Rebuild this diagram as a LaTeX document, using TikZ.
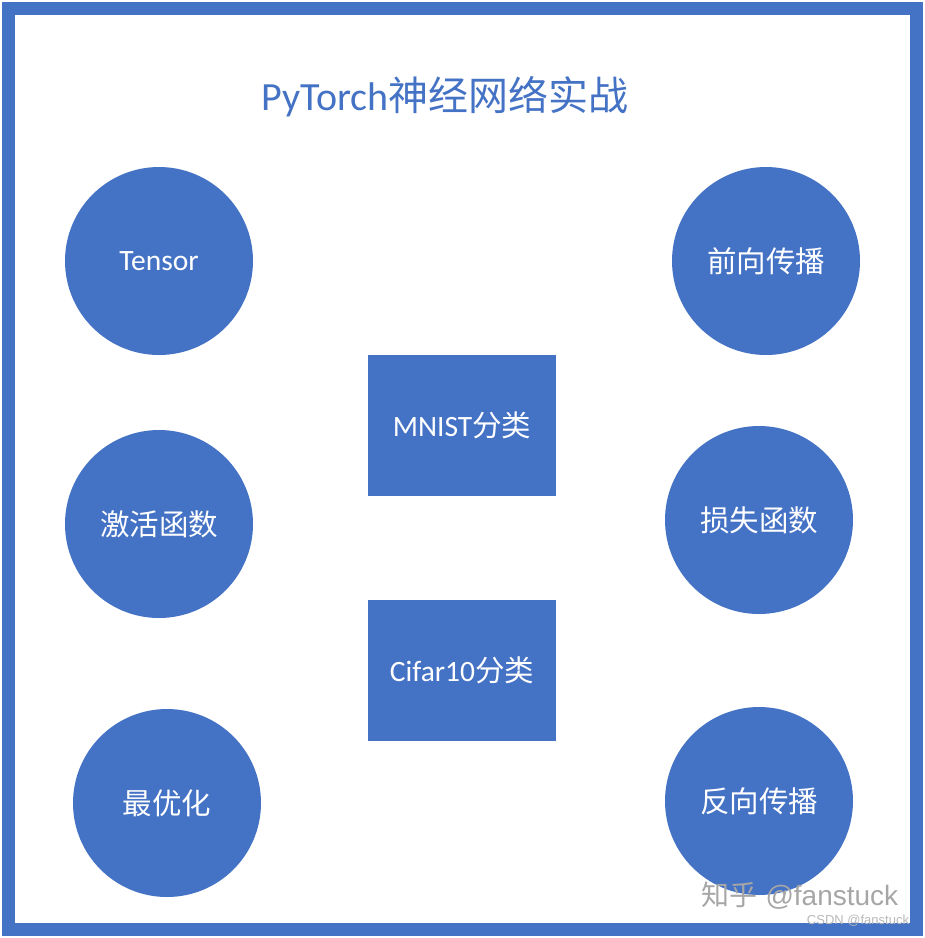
\documentclass[tikz,border=0pt]{standalone}
\usepackage{fontspec}
\setmainfont{Carlito}
\newfontfamily\cjk{Noto Sans CJK SC}
\newfontfamily\wmfont{Liberation Sans}
\definecolor{pptblue}{RGB}{68,114,196}
\begin{document}
\begin{tikzpicture}[x=1pt, y=-1pt, line cap=round,
	ball/.style={circle, fill=pptblue, minimum size=188pt, inner sep=0pt, text=white, font=\fontsize{29.5}{31}\selectfont},
	card/.style={rectangle, fill=pptblue, minimum width=188pt, minimum height=141pt, inner sep=0pt, text=white, font=\fontsize{29.5}{31}\selectfont}]
	\useasboundingbox (0,0) rectangle (925,938);
	% frame
	\draw[pptblue, line width=13pt, line join=miter] (8.5,8.5) rectangle (916.5,929.5);
	\node[text=pptblue, font=\fontsize{40}{42}\selectfont] (title) at (445,97) {PyTorch{\cjk 神经网络实战}};
	% left column
	\node[ball] (tensor) at (159,261) {Tensor};
	\node[ball] (act) at (159,524) {\cjk 激活函数};
	\node[ball] (optim) at (167,803) {\cjk 最优化};
	% right column
	\node[ball] (fwd) at (766,261) {\cjk 前向传播};
	\node[ball] (loss) at (759,520) {\cjk 损失函数};
	\node[ball] (bwd) at (759,801) {\cjk 反向传播};
	% middle
	\node[card] (mnist) at (462,425) {MNIST{\cjk 分类}};
	\node[card] (cifar) at (462,670) {Cifar10{\cjk 分类}};
	% watermarks
	\path
	(800,896) node[text=black!35, font=\fontsize{28}{30}\wmfont] (zhihu) {{\cjk 知乎} @fanstuck}
	(858,921) node[text=black!28, font=\fontsize{13}{14}\wmfont] (csdn) {CSDN @fanstuck}
	;
\end{tikzpicture}
\end{document}
